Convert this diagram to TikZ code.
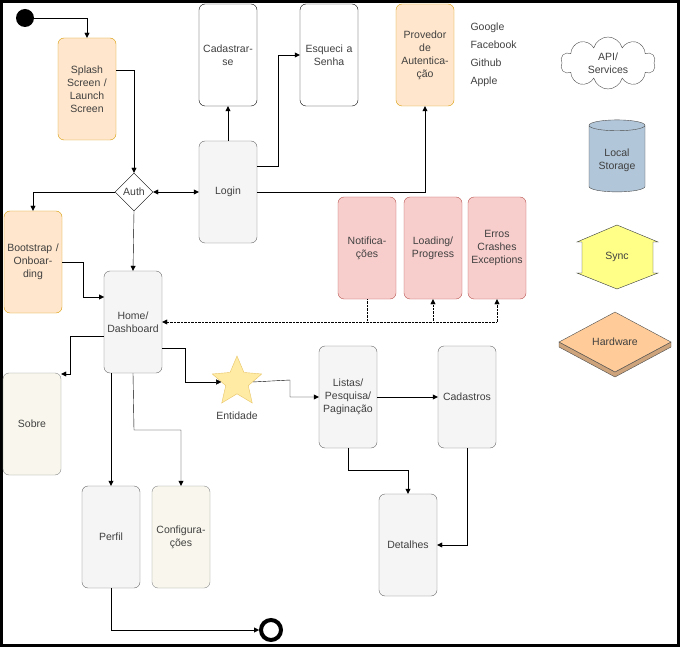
\documentclass[tikz,border=0pt]{standalone}
\usepackage{fontspec}
\setmainfont{Liberation Sans}
\definecolor{lineDark}{HTML}{000000}
\definecolor{grayFill}{HTML}{F5F5F5}
\definecolor{grayDraw}{HTML}{666666}
\definecolor{orangeFill}{HTML}{FFE6CC}
\definecolor{orangeDraw}{HTML}{D79B00}
\definecolor{pinkFill}{HTML}{F8CECC}
\definecolor{pinkDraw}{HTML}{B85450}
\definecolor{beigeFill}{HTML}{F9F7ED}
\definecolor{beigeDraw}{HTML}{36393D}
\definecolor{storageFill}{HTML}{B1C6D8}
\definecolor{syncFill}{HTML}{FFFF88}
\definecolor{syncDraw}{HTML}{36393D}
\definecolor{hwFill}{HTML}{FFCC99}
\usetikzlibrary{shapes,arrows,positioning,calc,arrows.meta,shapes.misc,shapes.geometric,shapes.symbols}
\tikzset{
  screenBox/.style={
    rectangle,
    rounded corners=6pt,
    draw=grayDraw,
    fill=grayFill,
    text width=56pt,
    minimum width=58pt,
    minimum height=102pt,
    align=center,
    inner sep=1pt,
    font=\fontsize{10.5}{13}\selectfont,
    text=black!75
 },
  plainBox/.style={screenBox, draw=black, fill=white},
  orangeBox/.style={screenBox, draw=orangeDraw, fill=orangeFill},
  pinkBox/.style={screenBox, draw=pinkDraw, fill=pinkFill},
  beigeBox/.style={screenBox, draw=beigeDraw!60, fill=beigeFill},
  arrowLine/.style={
    -{Triangle[length=5pt,width=5pt]},
    color=lineDark
 },
  bothLine/.style={arrowLine, {Triangle[length=5pt,width=5pt]}-{Triangle[length=5pt,width=5pt]}},
  dotLine/.style={arrowLine, densely dotted},
  smallText/.style={font=\fontsize{10.5}{13}\selectfont, text=black!75, align=left}
}
\begin{document}
\begin{tikzpicture}[x=1pt,y=-1pt]
\useasboundingbox (0,0) rectangle (680,647);
\draw[line width=3pt] (1.5,1.5) rectangle (678.5,645.5);

% start and end
\node[circle, fill=black, minimum size=18pt, inner sep=0] (start) at (25,18) {};
\node[circle, draw=black, line width=4pt, minimum size=20pt, inner sep=0] (finish) at (271,630) {};

% login flow
\node[orangeBox] (splash) at (87,89) {Splash\\Screen /\\Launch\\Screen};
\node[diamond, draw=black, fill=white, minimum size=38pt, inner sep=0, font=\fontsize{10.5}{13}\selectfont, text=black!75] (auth) at (134,192) {Auth};
\node[screenBox] (login) at (228,192) {Login};
\node[plainBox] (signup) at (228,55) {Cadastrar-\\se};
\node[plainBox] (forgot) at (329,55) {Esqueci a\\Senha};
\node[orangeBox] (provider) at (425,55) {Provedor\\de\\Autentica-\\ção};
\node[smallText, anchor=north west] (providers) at (467,19) {Google\\[5pt]Facebook\\[5pt]Github\\[5pt]Apple};

% legend
\node[cloud, draw=black!70, fill=white, cloud puffs=10, aspect=1.9, minimum width=95pt, minimum height=52pt, inner sep=0, align=center, font=\fontsize{10.5}{13}\selectfont, text=black!75] (api) at (608,63) {API/\\Services};
\node[cylinder, shape border rotate=90, aspect=0.25, draw=black!70, fill=storageFill, minimum width=56pt, minimum height=72pt, align=center, font=\fontsize{10.5}{13}\selectfont, text=black!75] (storage) at (617,160) {Local\\Storage};
\draw[syncDraw, fill=syncFill] (617,225) -- (658,242) -- (653,242) -- (653,273) -- (658,273) -- (617,289) -- (577,273) -- (582,273) -- (582,242) -- (577,242) -- cycle;
\node[font=\fontsize{10.5}{13}\selectfont, text=black!75] (sync) at (617,257) {Sync};
\draw[black!70, fill=hwFill!80!black] (559,342) -- (559,347) -- (615,377) -- (671,347) -- (671,342) -- (615,372) -- cycle;
\node[diamond, aspect=1.9, draw=black!70, fill=hwFill, minimum width=112pt, minimum height=60pt, inner sep=0, font=\fontsize{10.5}{13}\selectfont, text=black!75] (hardware) at (615,342) {Hardware};

% main screens
\node[orangeBox] (bootstrap) at (33,262) {Bootstrap /\\Onboar-\\ding};
\node[screenBox] (home) at (133,322) {Home/\\Dashboard};
\node[pinkBox] (notify) at (367,248) {Notifica-\\ções};
\node[pinkBox] (loading) at (433,248) {Loading/\\Progress};
\node[pinkBox] (errors) at (497,248) {Erros\\Crashes\\Exceptions};
\node[beigeBox] (about) at (32,424) {Sobre};
\node[star, star points=5, star point ratio=2.2, draw=orangeDraw!60, fill=orangeFill!80!yellow, minimum size=52pt, inner sep=0] (entity) at (237,382) {};
\node[smallText] (entityText) at (237,416) {Entidade};
\node[screenBox] (lists) at (348,397) {Listas/\\Pesquisa/\\Paginação};
\node[screenBox] (forms) at (467,397) {Cadastros};
\node[screenBox] (profile) at (111,537) {Perfil};
\node[beigeBox] (settings) at (181,537) {Configura-\\ções};
\node[screenBox] (details) at (408,545) {Detalhes};

% connectors
\coordinate (homeIn) at (104,297);
\coordinate (dotJoin) at (367,322);
\draw[arrowLine] (start) -| (splash.north);
\draw[arrowLine] (splash.east |- 0,70) -| (auth.north);
\draw[bothLine] (auth) -- (login);
\draw[arrowLine] (auth.west) -| (bootstrap.north);
\draw[arrowLine] (auth.south) -- (home.north);
\draw[arrowLine] (bootstrap.east) -- (83,262) |- (homeIn);
\draw[arrowLine] (login.north) -- (signup.south);
\draw[arrowLine] (login.east |- 0,166) -- (278,166) |- (forgot.west);
\draw[arrowLine] (login.east) -| (provider.south);
\draw[dotLine] (notify.south) -- (dotJoin) -- (home.east |- dotJoin);
\draw[dotLine] (dotJoin) -| (loading.south);
\draw[dotLine] (dotJoin) -| (errors.south);
\draw[arrowLine] (home.west |- 0,336) -- (70,336) |- (about.north east |- 0,374);
\draw[arrowLine] (home.east |- 0,348) -- (185,348) |- (entity.west);
\draw[arrowLine] (home.south -| profile) -- (profile.north);
\draw[arrowLine] (home.south) -- (134,430) -| (settings.north);
\draw[arrowLine] (entity.east) -- (290,380) |- (lists.west);
\draw[arrowLine] (lists.east) -- (forms.west);
\draw[arrowLine] (lists.south) -- (348,470) -| (details.north);
\draw[arrowLine] (forms.south) |- (details.east);
\draw[arrowLine] (profile.south) |- (finish.west);
\end{tikzpicture}
\end{document}
